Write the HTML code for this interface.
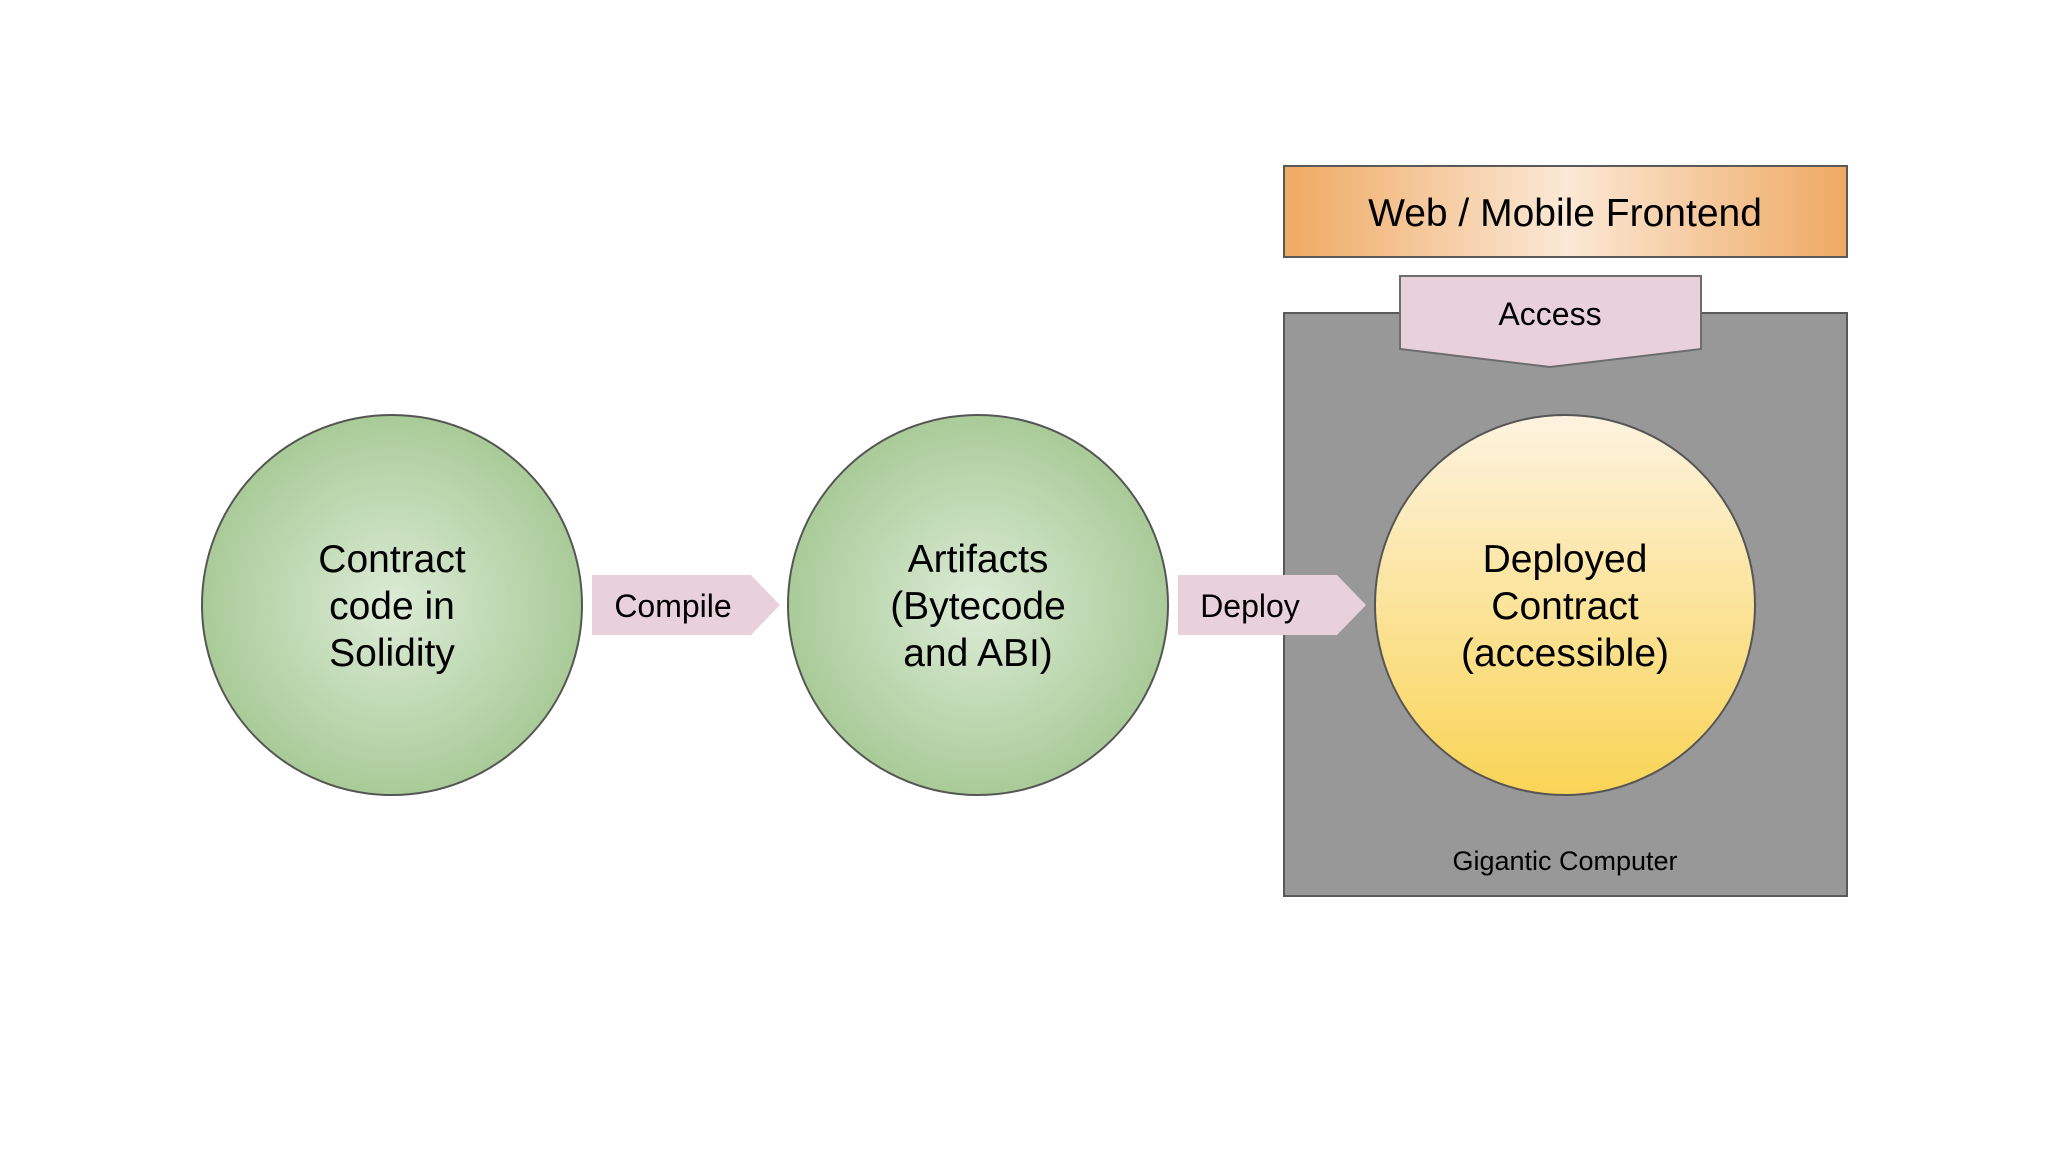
<!DOCTYPE html>
<html><head><meta charset="utf-8"><style>
body{margin:0;background:#fff;}
svg{display:block;font-family:"Liberation Sans",Arial,sans-serif;}
</style></head><body>
<svg width="2048" height="1152" viewBox="0 0 2048 1152" xmlns="http://www.w3.org/2000/svg">
<defs>
<radialGradient id="g" cx="50%" cy="50%" r="50%"><stop offset="0" stop-color="#dcebd6"/><stop offset="1" stop-color="#a9cb98"/></radialGradient>
<linearGradient id="y" x1="0" y1="0" x2="0" y2="1"><stop offset="0" stop-color="#fdf3e0"/><stop offset="1" stop-color="#f9d455"/></linearGradient>
<linearGradient id="o" x1="0" y1="0" x2="1" y2="0"><stop offset="0" stop-color="#efa962"/><stop offset="0.5" stop-color="#fbe8d6"/><stop offset="1" stop-color="#efa962"/></linearGradient>
</defs>
<rect width="2048" height="1152" fill="#fff"/>
<rect x="1284" y="313" width="563" height="583" fill="#999899" stroke="#595959" stroke-width="2"/>
<rect x="1284" y="166" width="563" height="91" fill="url(#o)" stroke="#595959" stroke-width="2"/>
<text x="1565" y="226" font-size="39" text-anchor="middle" fill="#000">Web / Mobile Frontend</text>
<polygon points="1400,276 1701,276 1701,349 1550,367 1400,349" fill="#e8d1da" stroke="#6d6d6d" stroke-width="2"/>
<text x="1550" y="325" font-size="32" text-anchor="middle" fill="#000">Access</text>
<circle cx="392" cy="605" r="190" fill="url(#g)" stroke="#555" stroke-width="2"/>
<circle cx="978" cy="605" r="190" fill="url(#g)" stroke="#555" stroke-width="2"/>
<circle cx="1565" cy="605" r="190" fill="url(#y)" stroke="#555" stroke-width="2"/>
<polygon points="592,575 751,575 780,605 751,635 592,635" fill="#e8d1da"/>
<polygon points="1178,575 1337,575 1366,605 1337,635 1178,635" fill="#e8d1da"/>
<text x="673" y="617" font-size="32" text-anchor="middle">Compile</text>
<text x="1250" y="617" font-size="32" text-anchor="middle">Deploy</text>
<g font-size="39" text-anchor="middle" fill="#000">
<text x="392" y="572">Contract</text><text x="392" y="619">code in</text><text x="392" y="666">Solidity</text>
<text x="978" y="572">Artifacts</text><text x="978" y="619">(Bytecode</text><text x="978" y="666">and ABI)</text>
<text x="1565" y="572">Deployed</text><text x="1565" y="619">Contract</text><text x="1565" y="666">(accessible)</text>
</g>
<text x="1565" y="870" font-size="27" text-anchor="middle">Gigantic Computer</text>
</svg>
</body></html>
